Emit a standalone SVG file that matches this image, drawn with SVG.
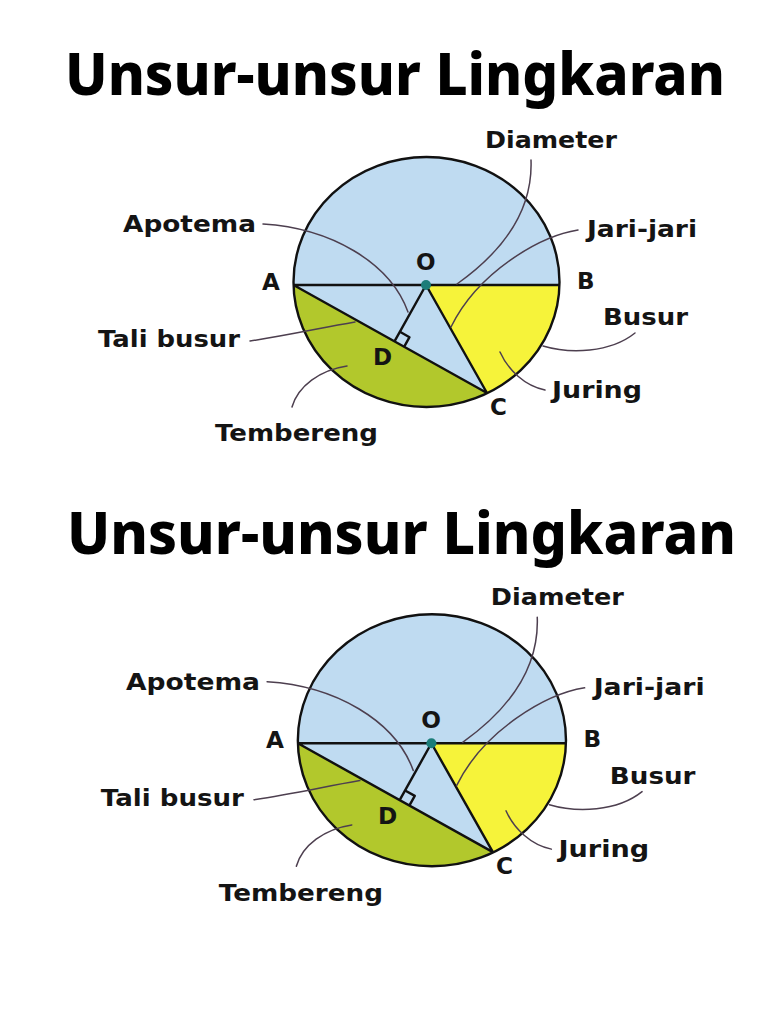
<svg xmlns="http://www.w3.org/2000/svg" width="768" height="1024" viewBox="0 0 768 1024">
<style>
.title{font-family:"Noto Sans","Open Sans","Liberation Sans",sans-serif;font-weight:800;font-size:58px;fill:#000}
.lbl{font-family:"DejaVu Sans","Liberation Sans",sans-serif;font-weight:bold;font-size:23px;fill:#141414}
.lead{fill:none;stroke:#4d3f4f;stroke-width:1.5;stroke-linecap:round}
.edge{fill:none;stroke:#111;stroke-width:2.4;stroke-linejoin:round}
.blue{fill:#bfdbf1}
.yellow{fill:#f6f33a}
.green{fill:#b2c82c}
.dot{fill:#1b7d79}
</style>
<rect width="768" height="1024" fill="#ffffff"/>

<g id="title1"><text class="title" x="65" y="95" textLength="660" lengthAdjust="spacingAndGlyphs">Unsur-unsur Lingkaran</text></g>

<g id="diagram1">
  <g id="circle1">
    <ellipse class="blue" cx="426.5" cy="282" rx="133" ry="125"/>
    <path id="juring1" class="yellow" d="M426,285 L559.5,285 A133,125 0 0,1 487,393 Z"/>
    <path id="tembereng1" class="green" d="M293.5,285 L487,393 A133,125 0 0,1 293.5,285 Z"/>
    <path class="edge" d="M293.5,285 H559.5 M293.5,285 L487,393 M426,285 L487,393 M426,285 L394.5,341.4"/>
    <path class="edge" stroke-width="1.6" d="M404.1,346.8 L409.5,337.2 L399.9,331.8"/>
    <ellipse class="edge" cx="426.5" cy="282" rx="133" ry="125"/>
    <circle class="dot" cx="426" cy="285" r="5"/>
  </g>
  <g id="connectors1">
    <path class="lead" d="M531,160 C533,212 502,252 457,284"/>
    <path class="lead" d="M578,230 C540,236 478,272 451,327"/>
    <path class="lead" d="M263,224 C330,228 390,262 408,312"/>
    <path class="lead" d="M250,341 C290,335 320,328 355,322"/>
    <path class="lead" d="M543,346 C570,354 610,353 635,333"/>
    <path class="lead" d="M500,352 C508,370 525,386 545,390"/>
    <path class="lead" d="M347,366 C320,370 298,386 292,407"/>
  </g>
  <g id="labels1">
    <text id="l1-diameter" class="lbl" x="485" y="148" textLength="132" lengthAdjust="spacingAndGlyphs">Diameter</text>
    <text id="l1-jari" class="lbl" x="587" y="237" textLength="110" lengthAdjust="spacingAndGlyphs">Jari-jari</text>
    <text id="l1-apotema" class="lbl" x="123" y="232" textLength="133" lengthAdjust="spacingAndGlyphs">Apotema</text>
    <text id="l1-a" class="lbl" x="262" y="290">A</text>
    <text id="l1-o" class="lbl" x="416" y="270">O</text>
    <text id="l1-b" class="lbl" x="577" y="289">B</text>
    <text id="l1-busur" class="lbl" x="603" y="325" textLength="85" lengthAdjust="spacingAndGlyphs">Busur</text>
    <text id="l1-tali" class="lbl" x="98" y="347" textLength="142" lengthAdjust="spacingAndGlyphs">Tali busur</text>
    <text id="l1-d" class="lbl" x="373" y="365">D</text>
    <text id="l1-juring" class="lbl" x="552" y="398" textLength="90" lengthAdjust="spacingAndGlyphs">Juring</text>
    <text id="l1-c" class="lbl" x="490" y="415">C</text>
    <text id="l1-tembereng" class="lbl" x="215" y="441" textLength="163" lengthAdjust="spacingAndGlyphs">Tembereng</text>
  </g>
</g>

<g id="title2"><text class="title" x="67" y="554" textLength="669" lengthAdjust="spacingAndGlyphs">Unsur-unsur Lingkaran</text></g>

<g id="diagram2" transform="translate(2,456) scale(1.008)">
  <g id="circle2">
    <ellipse class="blue" cx="426.5" cy="282" rx="133" ry="125"/>
    <path id="juring2" class="yellow" d="M426,285 L559.5,285 A133,125 0 0,1 487,393 Z"/>
    <path id="tembereng2" class="green" d="M293.5,285 L487,393 A133,125 0 0,1 293.5,285 Z"/>
    <path class="edge" d="M293.5,285 H559.5 M293.5,285 L487,393 M426,285 L487,393 M426,285 L394.5,341.4"/>
    <path class="edge" stroke-width="1.6" d="M404.1,346.8 L409.5,337.2 L399.9,331.8"/>
    <ellipse class="edge" cx="426.5" cy="282" rx="133" ry="125"/>
    <circle class="dot" cx="426" cy="285" r="5"/>
  </g>
  <g id="connectors2">
    <path class="lead" d="M531,160 C533,212 502,252 457,284"/>
    <path class="lead" d="M578,230 C540,236 478,272 451,327"/>
    <path class="lead" d="M263,224 C330,228 390,262 408,312"/>
    <path class="lead" d="M250,341 C290,335 320,328 355,322"/>
    <path class="lead" d="M543,346 C570,354 610,353 635,333"/>
    <path class="lead" d="M500,352 C508,370 525,386 545,390"/>
    <path class="lead" d="M347,366 C320,370 298,386 292,407"/>
  </g>
  <g id="labels2">
    <text id="l2-diameter" class="lbl" x="485" y="148" textLength="132" lengthAdjust="spacingAndGlyphs">Diameter</text>
    <text id="l2-jari" class="lbl" x="587" y="237" textLength="110" lengthAdjust="spacingAndGlyphs">Jari-jari</text>
    <text id="l2-apotema" class="lbl" x="123" y="232" textLength="133" lengthAdjust="spacingAndGlyphs">Apotema</text>
    <text id="l2-a" class="lbl" x="262" y="290">A</text>
    <text id="l2-o" class="lbl" x="416" y="270">O</text>
    <text id="l2-b" class="lbl" x="577" y="289">B</text>
    <text id="l2-busur" class="lbl" x="603" y="325" textLength="85" lengthAdjust="spacingAndGlyphs">Busur</text>
    <text id="l2-tali" class="lbl" x="98" y="347" textLength="142" lengthAdjust="spacingAndGlyphs">Tali busur</text>
    <text id="l2-d" class="lbl" x="373" y="365">D</text>
    <text id="l2-juring" class="lbl" x="552" y="398" textLength="90" lengthAdjust="spacingAndGlyphs">Juring</text>
    <text id="l2-c" class="lbl" x="490" y="415">C</text>
    <text id="l2-tembereng" class="lbl" x="215" y="441" textLength="163" lengthAdjust="spacingAndGlyphs">Tembereng</text>
  </g>
</g>
</svg>
